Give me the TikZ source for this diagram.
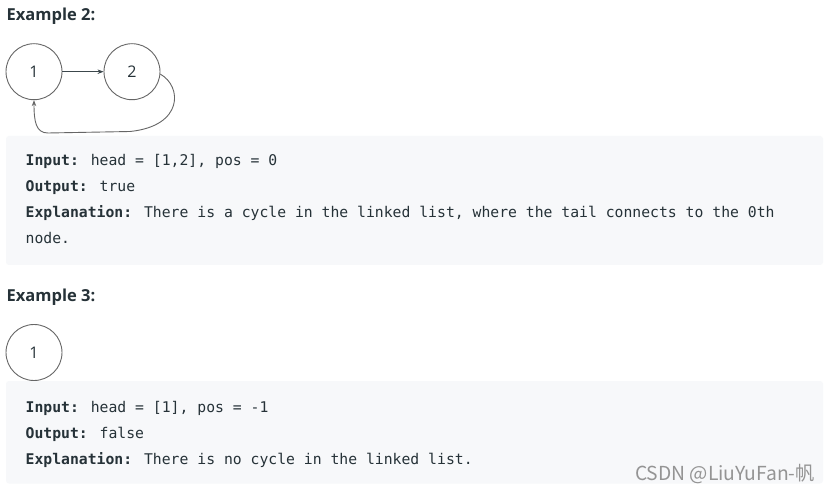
\documentclass[tikz,border=0pt]{standalone}
\usepackage{fontspec}
\setmainfont{Open Sans}
\newfontfamily\codefont{DejaVu Sans Mono}
\newfontfamily\cjkfont{Noto Sans CJK SC}
\usetikzlibrary{arrows.meta}
\definecolor{txt}{HTML}{263238}
\definecolor{boxbg}{HTML}{F7F8FA}
\definecolor{ring}{HTML}{666666}
\tikzset{
  listnode/.style={circle, draw=ring, line width=0.9pt, minimum size=56pt, inner sep=0pt,
    text=txt, font=\fontsize{16}{16}\selectfont},
  heading/.style={anchor=base west, inner sep=0pt, text=txt, font=\fontsize{16.5}{16.5}\selectfont\bfseries},
  codeline/.style={anchor=base west, inner sep=0pt, text=txt, font=\fontsize{14.75}{14.75}\selectfont\codefont},
  codebox/.style={fill=boxbg, draw=none, rounded corners=3pt},
  link/.style={draw=txt!90, line width=0.7pt, -{Stealth[length=6pt,width=4.5pt]}},
  back/.style={draw=ring, line width=0.9pt, -{Stealth[length=6pt,width=4.5pt]}},
}
\begin{document}
\begin{tikzpicture}[x=1pt,y=-1pt]
\useasboundingbox[fill=white] (0,0) rectangle (831,492);
% Example 2
\node[heading] (h2) at (6.5,20.5) {Example 2:};
\node[listnode] (a1) at (34,71.7) {1};
\node[listnode] (a2) at (132,71.7) {2};
\draw[link] (a1) -- (a2);
\coordinate (c1) at (130,131.5);
\coordinate (c2) at (48,133);
\draw[back] (a2.-5) .. controls (182,86) and (184,126) .. (c1) -- (c2) .. controls (36,133) and (34,122) .. (a1.south);
\fill[codebox] (6,136) rectangle (823,265);
\node[codeline] (i2) at (25.5,165.5) {\textbf{Input:} head = [1,2], pos = 0};
\node[codeline] (o2) at (25.5,191.5) {\textbf{Output:} true};
\node[codeline] (e2) at (25.5,217.5) {\textbf{Explanation:} There is a cycle in the linked list, where the tail connects to the 0th};
\node[codeline] (n2) at (25.5,243.5) {node.};
% Example 3
\node[heading] (h3) at (6.5,301.5) {Example 3:};
\node[listnode] (b1) at (34,352.5) {1};
\fill[codebox] (6,381) rectangle (823,483.5);
\node[codeline] (i3) at (25.5,412) {\textbf{Input:} head = [1], pos = -1};
\node[codeline] (o3) at (25.5,438) {\textbf{Output:} false};
\node[codeline] (e3) at (25.5,464) {\textbf{Explanation:} There is no cycle in the linked list.};
% watermark
\node[anchor=base east, inner sep=0pt, text=black!42, font=\fontsize{19.3}{19.3}\selectfont\cjkfont] (wm) at (815,480.5) {CSDN @LiuYuFan-帆};
\end{tikzpicture}
\end{document}
